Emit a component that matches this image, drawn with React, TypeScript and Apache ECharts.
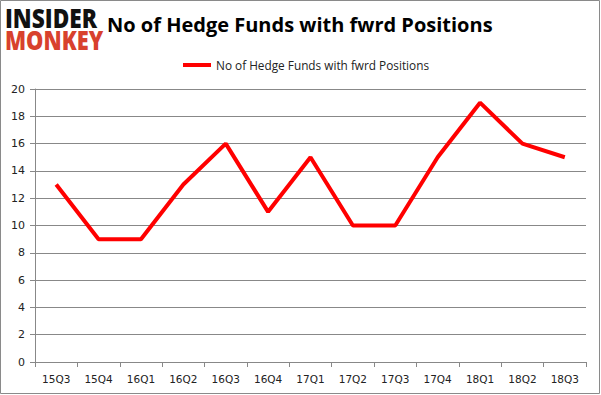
import React, { useEffect, useRef } from "react";
import * as echarts from "echarts";

const categories = ["15Q3", "15Q4", "16Q1", "16Q2", "16Q3", "16Q4", "17Q1", "17Q2", "17Q3", "17Q4", "18Q1", "18Q2", "18Q3"];
const fundCounts = [13, 9, 9, 13, 16, 11, 15, 10, 10, 15, 19, 16, 15];
const seriesName = "No of Hedge Funds with fwrd Positions";
const titleText = "No of Hedge Funds with fwrd Positions";

export default function App() {
  const ref = useRef<HTMLDivElement>(null);
  useEffect(() => {
    const chart = echarts.init(ref.current!, null, { renderer: "svg" });
    chart.setOption({
      animation: false,
      backgroundColor: "#fff",
      graphic: [
        { type: "rect", z: 100, shape: { x: 0.5, y: 0.5, width: 599, height: 393 }, style: { fill: "none", stroke: "#8a8a8a", lineWidth: 1 } },
        { type: "text", x: 5, y: 5, scaleX: 0.87, style: { text: "INSIDER", fontFamily: "Open Sans", fontWeight: 800, fontSize: 26, fill: "#111" } },
        { type: "text", x: 5, y: 27, scaleX: 0.84, style: { text: "MONKEY", fontFamily: "Open Sans", fontWeight: 800, fontSize: 26, fill: "#d8412d" } },
        { type: "text", x: 107, y: 14, style: { text: titleText, fontFamily: "Open Sans", fontWeight: "bold", fontSize: 20, fill: "#000" } },
      ],
      legend: {
        top: 54,
        left: 178,
        itemWidth: 28,
        itemHeight: 4,
        icon: "rect",
        textStyle: { fontFamily: "'Open Sans'", fontSize: 11.8, color: "#222" },
        data: [{ name: seriesName, icon: "rect" }],
      },
      grid: { left: 35, right: 15, top: 89, bottom: 33, containLabel: false },
      xAxis: {
        type: "category",
        data: categories,
        boundaryGap: true,
        axisLine: { lineStyle: { color: "#888" } },
        axisTick: { show: true, length: 5, lineStyle: { color: "#888" } },
        axisLabel: { fontFamily: "'DejaVu Sans'", fontSize: 10.5, color: "#222", margin: 11 },
      },
      yAxis: {
        type: "value",
        min: 0,
        max: 20,
        interval: 2,
        axisLine: { show: true, lineStyle: { color: "#888" } },
        axisTick: { show: true, length: 5, lineStyle: { color: "#888" } },
        splitLine: { lineStyle: { color: "#888" } },
        axisLabel: { fontFamily: "'DejaVu Sans'", fontSize: 11, color: "#222", margin: 10 },
      },
      series: [
        {
          name: seriesName,
          type: "line",
          data: fundCounts,
          symbol: "none",
          lineStyle: { color: "#ff0000", width: 4 },
          itemStyle: { color: "#ff0000" },
        },
      ],
    });
    return () => chart.dispose();
  }, []);
  return (
    <div style={{ position: "absolute", left: 0, top: 0, width: 601, height: 395 }}>
      <div ref={ref} style={{ width: 601, height: 395 }} />
    </div>
  );
}
